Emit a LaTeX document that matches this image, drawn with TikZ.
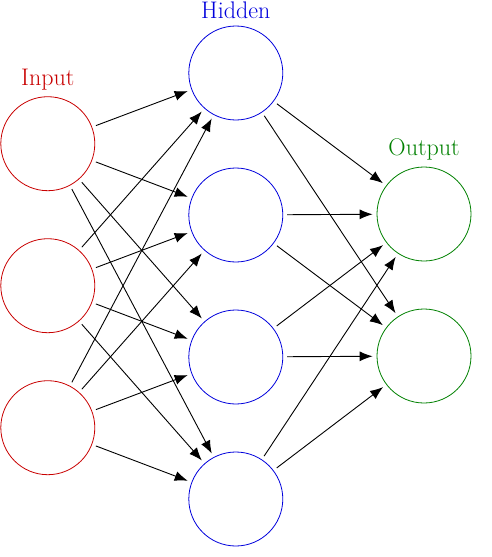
\documentclass[tikz,border=0pt]{standalone}
\usetikzlibrary{arrows.meta}
\definecolor{inred}{RGB}{200,0,0}
\definecolor{hidblue}{RGB}{0,0,220}
\definecolor{outgreen}{RGB}{0,128,0}
\begin{document}
\begin{tikzpicture}[x=1pt,y=-1pt,
  neuron/.style={circle,draw,line width=0.8pt,minimum size=94pt,inner sep=0pt},
  lab/.style={anchor=base,font=\fontsize{24}{28}\selectfont},
  conn/.style={-{Latex[length=13pt,width=10pt]},line width=0.9pt,shorten >=4pt,shorten <=4pt}]
\useasboundingbox (0,0) rectangle (492,557);
\foreach \i/\y in {1/143.7,2/285.7,3/427.7}
  \node[neuron,draw=inred] (I\i) at (47.8,\y) {};
\foreach \i/\y in {1/73,2/215,3/357,4/499}
  \node[neuron,draw=hidblue] (H\i) at (235.8,\y) {};
\foreach \i/\y in {1/214,2/356}
  \node[neuron,draw=outgreen] (O\i) at (424,\y) {};
\node[lab,text=inred] (tI) at (47.8,85) {Input};
\node[lab,text=hidblue] (tH) at (235.8,18) {Hidden};
\node[lab,text=outgreen] (tO) at (424,155) {Output};
\foreach \i in {1,2,3}
  \foreach \j in {1,2,3,4}
    \draw[conn] (I\i) -- (H\j);
\foreach \j in {1,2,3,4}
  \foreach \k in {1,2}
    \draw[conn] (H\j) -- (O\k);
\end{tikzpicture}
\end{document}
